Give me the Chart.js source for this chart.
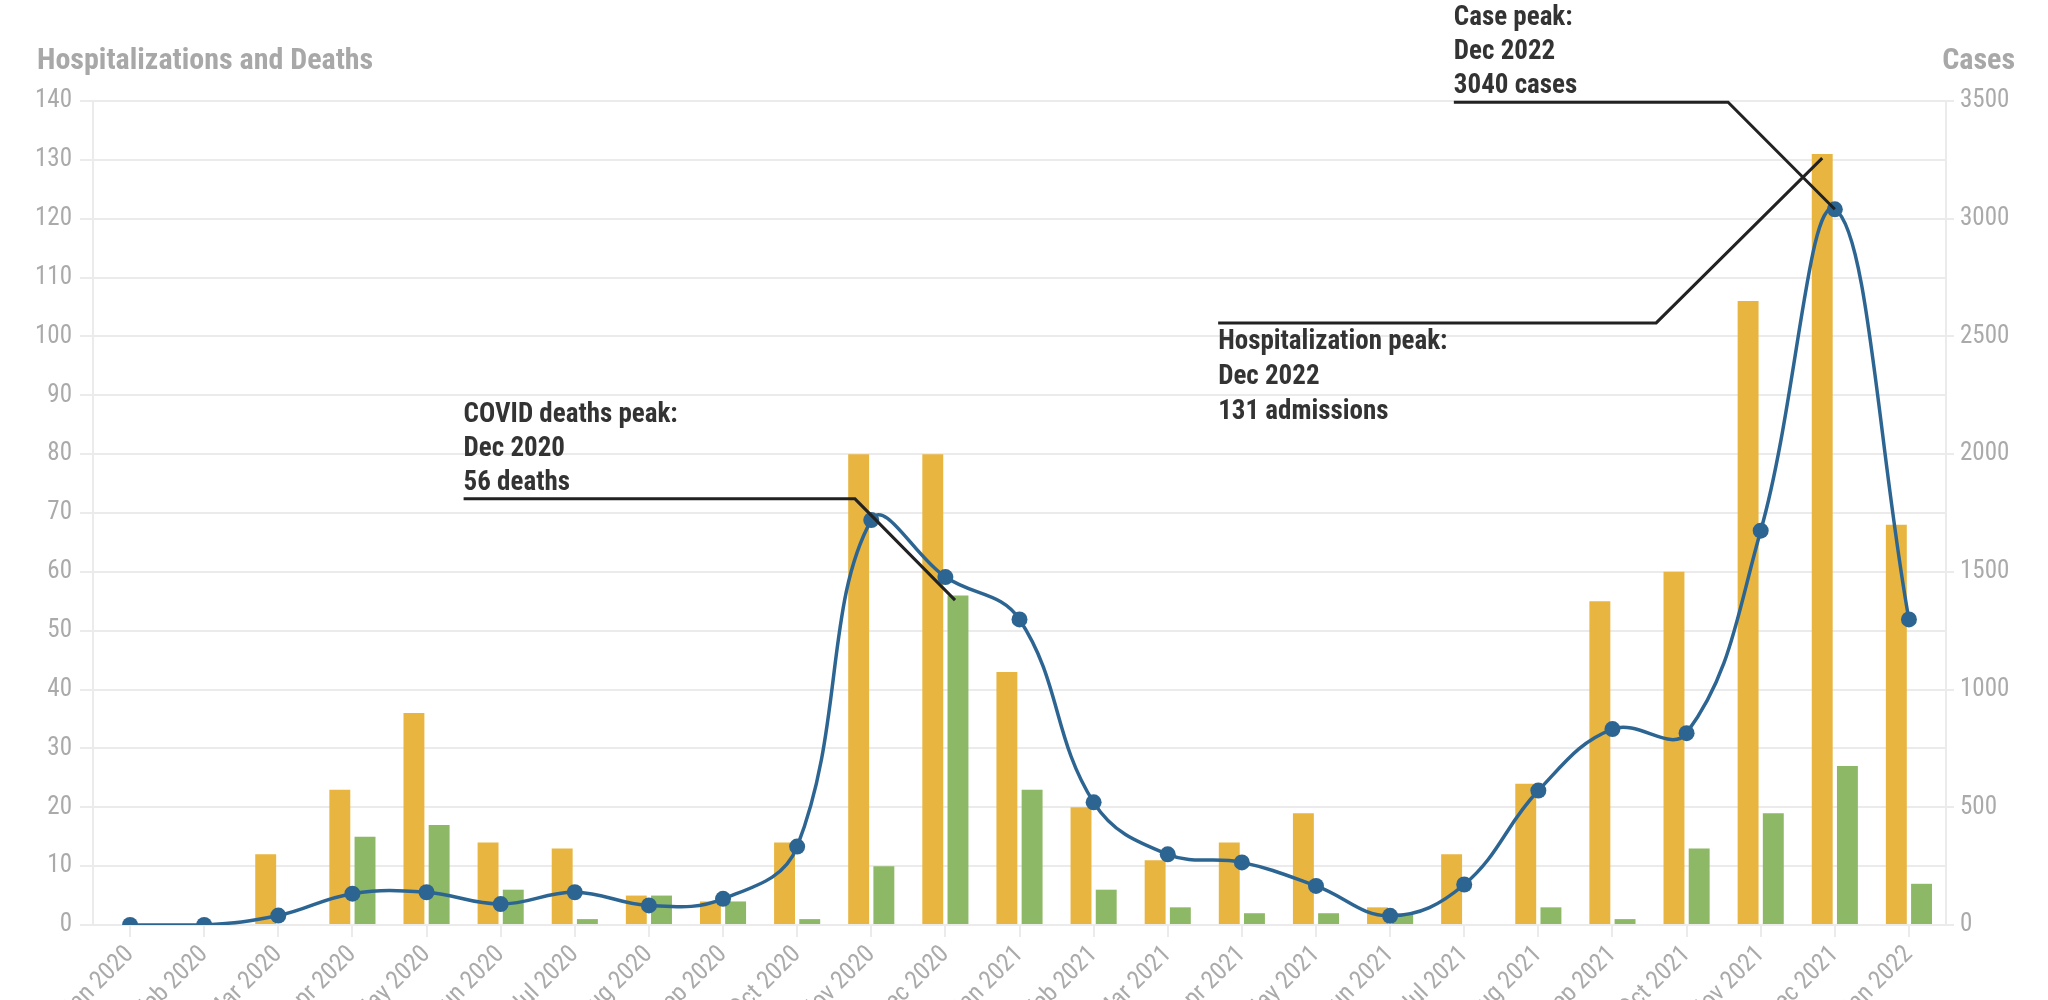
<!DOCTYPE html>
<html>
<head>
<meta charset="utf-8">
<script src="https://cdn.jsdelivr.net/npm/chart.js@4.4.1/dist/chart.umd.min.js"></script>
<style>
  html, body { margin: 0; padding: 0; background: #fff; overflow: hidden; }
  #wrap { position: relative; width: 2048px; height: 1040px; }
</style>
</head>
<body>
<div id="wrap"><canvas id="chart"></canvas></div>
<script>
// 数据
const months = [
  'Jan 2020', 'Feb 2020', 'Mar 2020', 'Apr 2020', 'May 2020', 'Jun 2020',
  'Jul 2020', 'Aug 2020', 'Sep 2020', 'Oct 2020', 'Nov 2020', 'Dec 2020',
  'Jan 2021', 'Feb 2021', 'Mar 2021', 'Apr 2021', 'May 2021', 'Jun 2021',
  'Jul 2021', 'Aug 2021', 'Sep 2021', 'Oct 2021', 'Nov 2021', 'Dec 2021',
  'Jan 2022'
];
const hospitalizations = [0, 0, 12, 23, 36, 14, 13, 5, 4, 14, 80, 80, 43, 20, 11, 14, 19, 3, 12, 24, 55, 60, 106, 131, 68];
const deaths = [0, 0, 0, 15, 17, 6, 1, 5, 4, 1, 10, 56, 23, 6, 3, 2, 2, 2, 0, 3, 1, 13, 19, 27, 7];
const cases = [0, 0, 40, 133, 139, 89, 139, 83, 111, 333, 1720, 1478, 1298, 521, 300, 266, 166, 39, 172, 571, 832, 815, 1675, 3040, 1298];

const leftTitle = 'Hospitalizations and Deaths';
const rightTitle = 'Cases';

// 注释 (x 为类别序号, y 为轴上数值)
const callouts = [
  { lines: ['COVID deaths peak:', 'Dec 2020', '56 deaths'], axis: 'y', above: true,
    path: [[4.5, 72.4], [9.78, 72.4], [11.13, 55.2]] },
  { lines: ['Hospitalization peak:', 'Dec 2022', '131 admissions'], axis: 'y', above: false,
    path: [[14.68, 102.3], [20.59, 102.3], [22.83, 130.3]] },
  { lines: ['Case peak:', 'Dec 2022', '3040 cases'], axis: 'y1', above: true,
    path: [[17.86, 3495], [21.56, 3495], [23, 3040]] }
];

const FONT = '"Roboto Condensed", "Liberation Sans Narrow", Roboto, sans-serif';
const GRID = '#ebebeb';
const TICK = '#aaaaaa';

const calloutPlugin = {
  id: 'callouts',
  afterDatasetsDraw(chart) {
    const ctx = chart.ctx;
    const xs = chart.scales.x;
    ctx.save();
    callouts.forEach(c => {
      const ys = chart.scales[c.axis];
      const pts = c.path.map(p => [xs.getPixelForValue(p[0]), ys.getPixelForValue(p[1])]);
      ctx.strokeStyle = '#222';
      ctx.lineWidth = 3;
      ctx.beginPath();
      pts.forEach((p, i) => i ? ctx.lineTo(p[0], p[1]) : ctx.moveTo(p[0], p[1]));
      ctx.stroke();

      ctx.fillStyle = '#333';
      ctx.font = 'bold 27px ' + FONT;
      ctx.textAlign = 'left';
      ctx.textBaseline = 'alphabetic';
      const x0 = pts[0][0], y0 = pts[0][1];
      const n = c.lines.length;
      c.lines.forEach((t, i) => {
        const y = c.above ? y0 - 9 - (n - 1 - i) * 34 : y0 + 26 + i * 35;
        ctx.fillText(t, x0, y);
      });
    });
    ctx.restore();
  },
  afterDraw(chart) {
    const ctx = chart.ctx;
    ctx.save();
    ctx.fillStyle = '#a8a8a8';
    ctx.font = 'bold 30px ' + FONT;
    ctx.textBaseline = 'alphabetic';
    ctx.textAlign = 'left';
    ctx.fillText(leftTitle, 37, 69);
    ctx.textAlign = 'right';
    ctx.fillText(rightTitle, 2015, 69);
    ctx.restore();
  }
};

new Chart(document.getElementById('chart'), {
  type: 'bar',
  data: {
    labels: months,
    datasets: [
      {
        type: 'line',
        label: 'Cases',
        data: cases,
        yAxisID: 'y1',
        borderColor: '#2d6592',
        backgroundColor: '#2d6592',
        borderWidth: 3.5,
        pointRadius: 8,
        pointBackgroundColor: '#2d6592',
        pointBorderWidth: 0,
        tension: 0.4,
        order: 0
      },
      {
        label: 'Hospitalizations',
        data: hospitalizations,
        yAxisID: 'y',
        backgroundColor: '#e8b540',
        barPercentage: 0.83,
        categoryPercentage: 0.68,
        order: 1
      },
      {
        label: 'Deaths',
        data: deaths,
        yAxisID: 'y',
        backgroundColor: '#8db866',
        barPercentage: 0.83,
        categoryPercentage: 0.68,
        order: 2
      }
    ]
  },
  options: {
    responsive: true,
    maintainAspectRatio: false,
    animation: false,
    layout: { padding: { top: 101, left: 0, right: 0, bottom: 0 } },
    plugins: {
      legend: { display: false },
      tooltip: { enabled: false }
    },
    scales: {
      x: {
        offset: true,
        grid: { display: true, drawOnChartArea: false, offset: false, color: GRID, lineWidth: 2, tickLength: 12 },
        border: { display: true, color: GRID, width: 2 },
        ticks: {
          color: TICK, minRotation: 45, maxRotation: 45, autoSkip: false,
          font: { family: FONT, size: 25 }
        },
        afterFit(scale) { scale.height = 115; }
      },
      y: {
        position: 'left',
        min: 0, max: 140,
        ticks: { stepSize: 10, color: TICK, padding: 8, font: { family: FONT, size: 25 } },
        grid: { color: GRID, lineWidth: 2, tickLength: 13 },
        border: { display: true, color: GRID, width: 2 },
        afterFit(scale) { scale.width = 93; }
      },
      y1: {
        position: 'right',
        min: 0, max: 3500,
        ticks: {
          stepSize: 500, color: TICK, padding: 6, font: { family: FONT, size: 25 },
          callback: v => String(v)
        },
        grid: { drawOnChartArea: false, color: GRID, lineWidth: 2, tickLength: 8 },
        border: { display: true, color: GRID, width: 2 },
        afterFit(scale) { scale.width = 102; }
      }
    }
  },
  plugins: [calloutPlugin]
});
</script>
</body>
</html>
